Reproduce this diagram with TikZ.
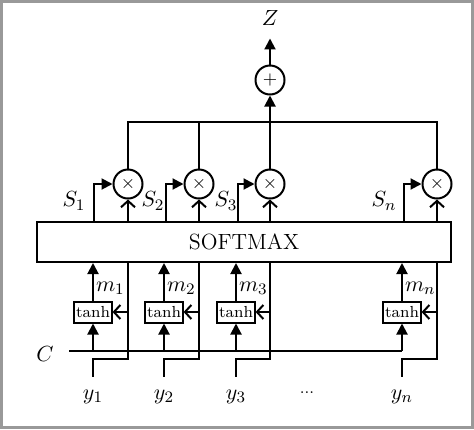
\documentclass[tikz,border=0pt]{standalone}
\usetikzlibrary{arrows.meta}

\begin{document}
\begin{tikzpicture}[
   x=0.5pt,y=-0.5pt,line width=1pt,
   >={Triangle[length=5.5pt,width=5.5pt]},
   attopen/.style={-{Straight Barb[length=3.2pt,width=7pt]}},
   attop/.style={draw,circle,minimum size=14.5pt,inner sep=0pt,font=\small},
   atttanh/.style={draw,minimum width=17.5pt,minimum height=10.5pt,inner xsep=0.8pt,
     inner ysep=1pt,font=\fontsize{8}{9}\selectfont},
   attlbl/.style={font=\fontsize{11}{13}\selectfont,inner sep=1pt}
 ]
 \useasboundingbox (0,0) rectangle (474,429);
 \draw[black!40,line width=1.5pt] (1.5,1.5) rectangle (472.5,427.5);
 \node[attop] (sum) at (270,80) {$+$};
 \node[attlbl,inner ysep=6pt] (Z) at (270,18) {$Z$};
 \node[draw,minimum width=207pt,minimum height=20pt,
   font=\fontsize{11}{12}\selectfont] (soft) at (244,242) {SOFTMAX};
 \node[attlbl] (C) at (45,354) {$C$};
 \node[attlbl,font=\footnotesize] (dots) at (307,393) {...};
 \coordinate (bus) at (270,122);
 \coordinate (cstart) at (69,351);
 % one column per input: y_i, tanh, m_i, S_i and the product
 \foreach \i/\xm/\xs/\xy/\sl in {1/93/94/128/74,2/164/166/199/153,
                                 3/236/238/270/226,n/402/404/437/384} {
   \node[attop] (mul\i) at (\xy,184) {$\times$};
   \node[atttanh] (tanh\i) at (\xm,312) {tanh};
   \node[attlbl,inner ysep=6.1pt] (y\i) at (\xm,397) {$y_\i$};
   \node[attlbl] (s\i) at (\sl,201) {$S_\i$};
   \draw[->] (soft.north -| \xs,0) |- (mul\i);
   \draw[->] (tanh\i) -- node[attlbl,right,pos=0.33] {$m_\i$} (soft.south -| tanh\i);
   \draw[->] (tanh\i |- cstart) -- (tanh\i);
   \draw (y\i) |- (\xy,359) -- (soft.south -| mul\i);
   \draw[attopen] (soft.north -| mul\i) -- (mul\i);
   \draw[attopen] (tanh\i.east -| mul\i) -- (tanh\i);
 }
 \draw (cstart) -- (tanhn.south |- cstart);
 \draw (mul1) |- (bus) -| (muln);
 \draw (mul2) -- (mul2 |- bus);
 \draw[->] (mul3) -- (sum);
 \draw[->] (sum) -- (Z);
\end{tikzpicture}
\end{document}
